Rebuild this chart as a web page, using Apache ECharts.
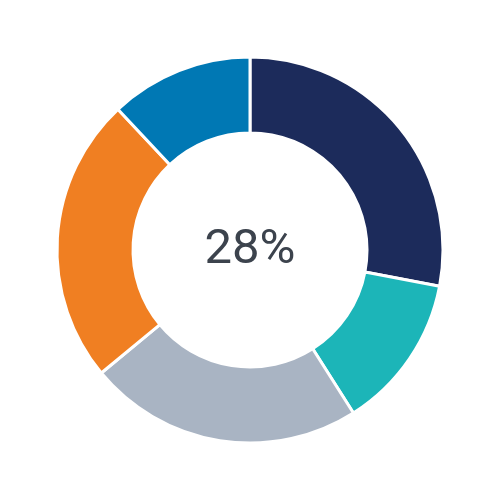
<!DOCTYPE html>
<html>
<head>
<meta charset="utf-8">
<script src="https://cdn.jsdelivr.net/npm/echarts@6/dist/echarts.min.js"></script>
<style>html,body{margin:0;padding:0;background:#fff}#c{width:500px;height:500px}</style>
</head>
<body>
<div id="c"></div>
<script>
const categories = ['A', 'B', 'C', 'D', 'E'];
const values = [28, 13, 23, 24, 12];
const colors = ['#1c2b5b', '#1cb5b8', '#a9b4c3', '#f07f22', '#0078b4'];
const centerLabel = '28%';

const chart = echarts.init(document.getElementById('c'), null, {renderer: 'canvas'});
chart.setOption({
  animation: false,
  backgroundColor: '#ffffff',
  title: {
    text: centerLabel,
    left: 'center',
    top: 221,
    textStyle: {fontFamily: 'Roboto', fontSize: 49, fontWeight: 'normal', color: '#3c434d'}
  },
  series: [{
    type: 'pie',
    center: ['50%', '50%'],
    radius: ['46.8%', '77.2%'],
    startAngle: 90,
    clockwise: true,
    label: {show: false},
    labelLine: {show: false},
    itemStyle: {borderColor: '#ffffff', borderWidth: 3},
    emphasis: {disabled: true},
    data: categories.map((c, i) => ({name: c, value: values[i], itemStyle: {color: colors[i]}}))
  }]
});
</script>
</body>
</html>
